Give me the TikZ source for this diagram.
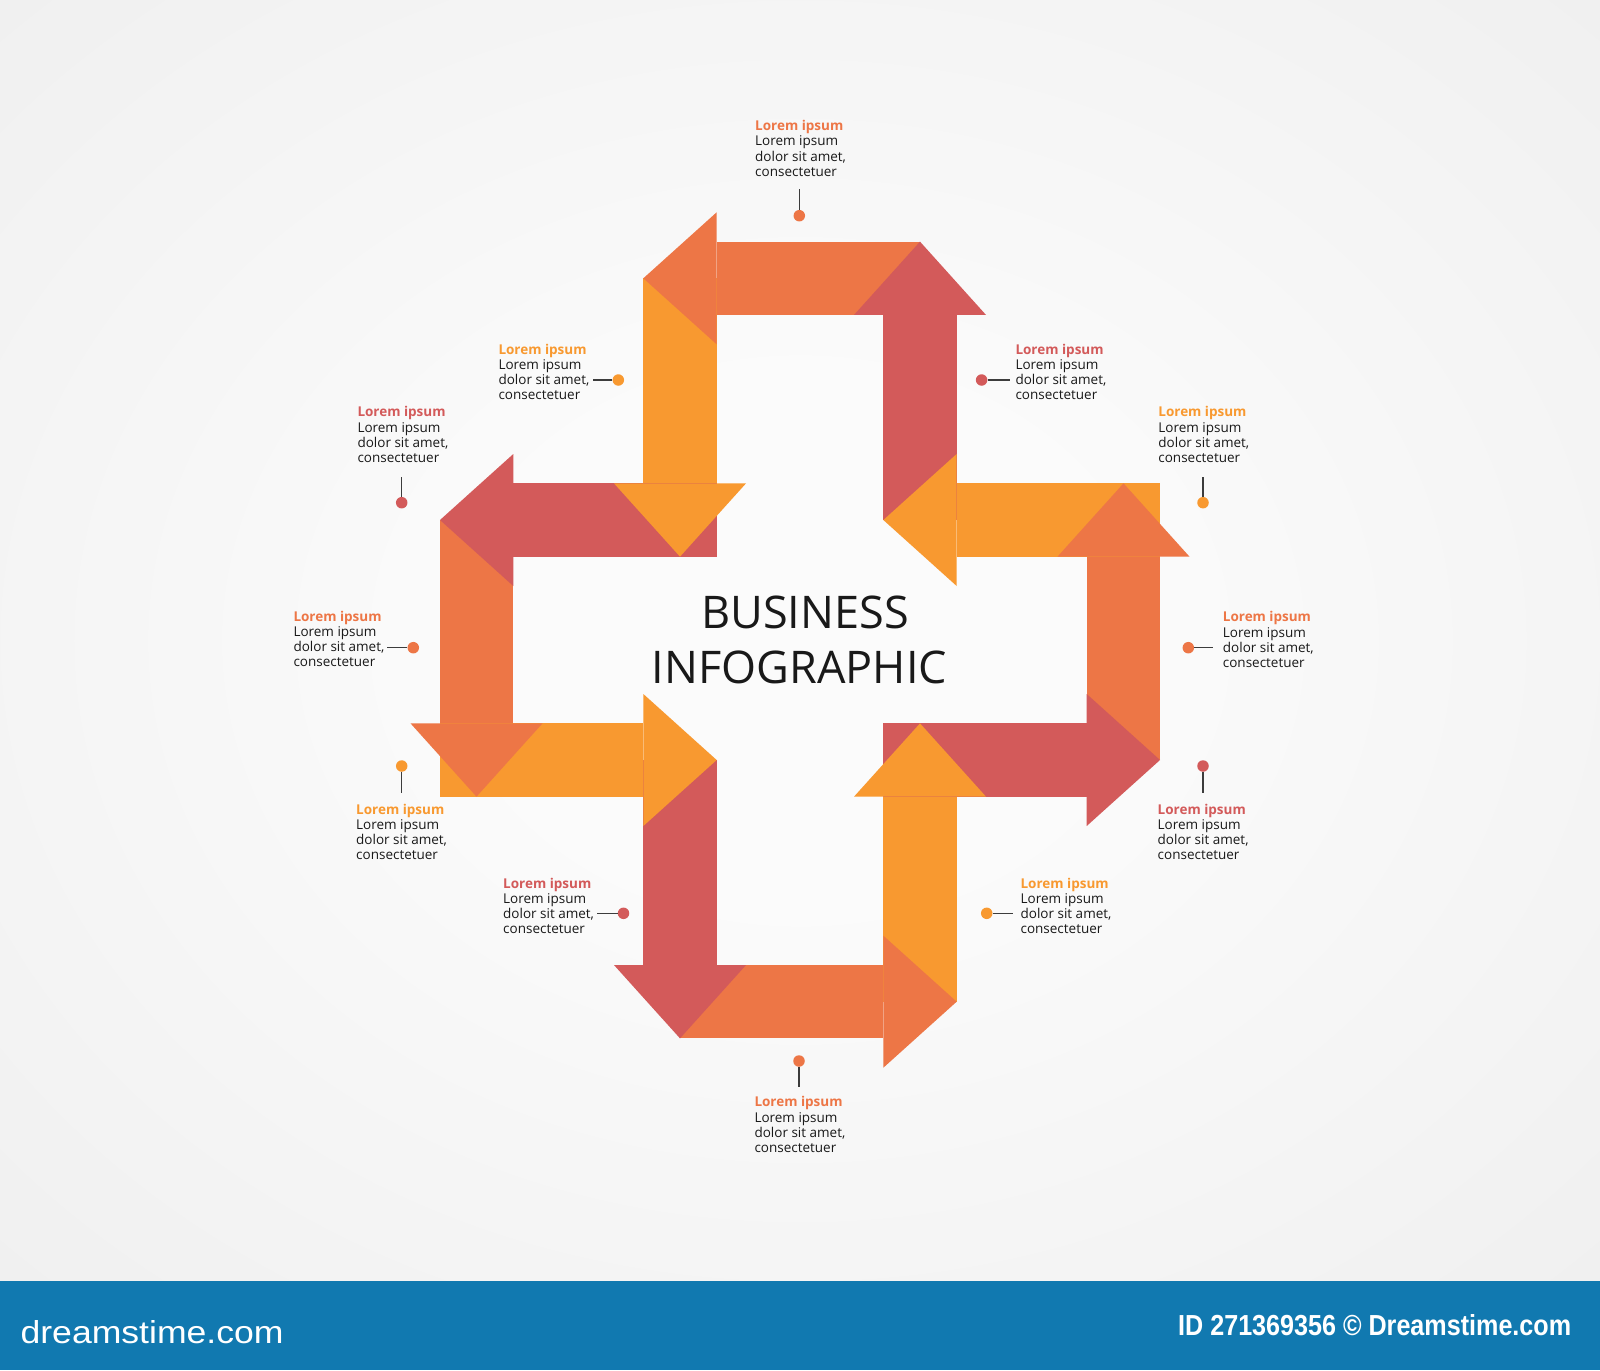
\documentclass[tikz,border=0pt]{standalone}
\usepackage{fontspec}
\usepackage{graphicx}
\usepackage{xcolor}
\setmainfont{Open Sans}
\newfontfamily\bannerfont{Liberation Sans}

\definecolor{ribOrange}{RGB}{237,118,70}
\definecolor{ribRed}{RGB}{211,90,90}
\definecolor{ribYellow}{RGB}{248,153,48}
\definecolor{bgin}{RGB}{251,251,251}
\definecolor{bgmid}{RGB}{238,238,238}
\definecolor{bgout}{RGB}{224,224,224}
\definecolor{banner}{RGB}{17,121,176}
\definecolor{ink}{RGB}{25,25,25}

\pgfdeclareradialshading{bgglow}{\pgfpoint{0bp}{0bp}}{color(0bp)=(bgin); color(10bp)=(bgin); color(40bp)=(bgmid); color(70bp)=(bgout)}

\newcommand{\lorem}[1]{%
  \begin{tabular}[t]{@{}l@{}}
    \textbf{\color{#1}Lorem ipsum}\\
    Lorem ipsum\\
    dolor sit amet,\\
    consectetuer
  \end{tabular}}

\begin{document}
\begin{tikzpicture}[
    x=1pt, y=-1pt,
    note/.style={inner sep=0pt, anchor=base west, text=ink,
                 font=\fontsize{13.5}{15.3}\selectfont},
    heading/.style={inner sep=0pt, anchor=base, text=ink,
                 font=\fontsize{45}{55}\selectfont},
    ldot/.style={circle, fill=#1, inner sep=0pt, minimum size=11.5pt},
    leader/.style={draw=ink!85, line width=1.3pt},
  ]
  \useasboundingbox (0,0) rectangle (1600,1370);
  \shade[shading=bgglow] (0,0) rectangle (1600,1281);
  \fill[banner] (0,1281) rectangle (1600,1370);

  % ribbon shafts first, then the heads over the next tail
  \foreach \col/\tx/\ty/\ang/\len in {
      ribOrange/920/278.3/180/276.65, ribYellow/680/278.3/270/278.35,
      ribRed/716.65/520/180/276.65, ribOrange/476.5/520/270/276.65,
      ribYellow/440/760/0/276.65, ribRed/680/760/270/278.35,
      ribOrange/680/1001.7/0/276.65, ribYellow/920/1001.7/90/278.35,
      ribRed/883.35/760/0/276.65, ribOrange/1123.5/760/90/276.65,
      ribYellow/1160/520/180/276.65, ribRed/920/520/90/278.35}
    \fill[\col, shift={(\tx,\ty)}, rotate=\ang] (0,-36.65) rectangle (\len-73.3,36.65);
  \foreach \col/\tx/\ty/\ang/\len in {
      ribOrange/920/278.3/180/276.65, ribYellow/680/278.3/270/278.35,
      ribRed/716.65/520/180/276.65, ribOrange/476.5/520/270/276.65,
      ribYellow/440/760/0/276.65, ribRed/680/760/270/278.35,
      ribOrange/680/1001.7/0/276.65, ribYellow/920/1001.7/90/278.35,
      ribRed/883.35/760/0/276.65, ribOrange/1123.5/760/90/276.65,
      ribYellow/1160/520/180/276.65, ribRed/920/520/90/278.35}
    \fill[\col, shift={(\tx,\ty)}, rotate=\ang] (\len-73.3,-66) -- (\len,0) -- (\len-73.3,66) -- cycle;

  \node[heading] (title1) at (805,628.3) {BUSINESS};
  \node[heading] (title2) at (799.5,683.3) {INFOGRAPHIC};

  % labels: text, dot, leader end
  \foreach \n/\col/\tx/\ty/\px/\py/\qx/\qy in {
      1/ribOrange/755/130.7/799.3/215.7/799.3/189.3,
      2/ribYellow/498.3/354/618.3/380/593/380,
      3/ribRed/357.3/416.7/401.7/502.7/401.7/476.7,
      4/ribOrange/293.3/621/413.3/647.7/387.3/647.7,
      5/ribYellow/356/814/401.7/766/401.7/793.3,
      6/ribRed/503/888/623.5/913.3/597/913.3,
      7/ribOrange/754.3/1106.7/799/1061/799/1086.7,
      8/ribYellow/1020.4/888/986.7/913.3/1013/913.3,
      9/ribRed/1157.5/814/1203/766/1203/793.3,
      10/ribOrange/1222.7/621.7/1188.3/647.7/1213/647.7,
      11/ribYellow/1158.2/416.7/1203/502.7/1203/476.7,
      12/ribRed/1015.3/354/981.6/380/1010/380}
  {
    \node[note] (note\n) at (\tx,\ty) {\lorem{\col}};
    \node[ldot=\col] (dot\n) at (\px,\py) {};
    \coordinate (end\n) at (\qx,\qy);
    \draw[leader] (dot\n) -- (end\n);
  }

  \node[inner sep=0pt, anchor=base west, text=white] (brand) at (20.4,1343)
    {\resizebox{263pt}{23pt}{\bannerfont dreamstime.com}};
  \node[inner sep=0pt, anchor=base east, text=white] (stockid) at (1571.4,1335.7)
    {\resizebox{393pt}{21pt}{\bannerfont\bfseries ID 271369356 \textcopyright\ Dreamstime.com}};
\end{tikzpicture}
\end{document}
